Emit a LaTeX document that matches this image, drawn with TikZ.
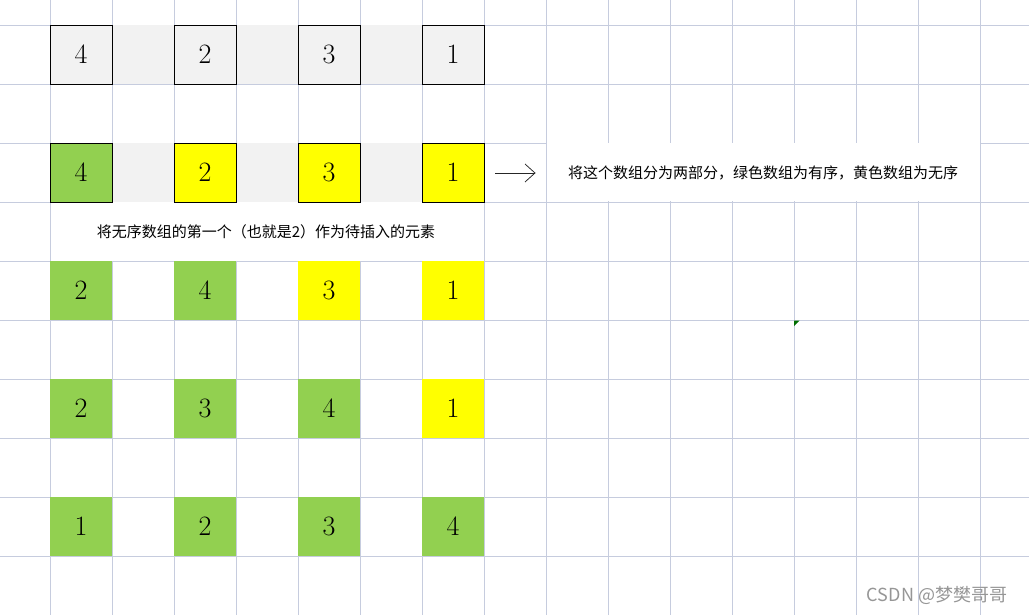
\documentclass[tikz,border=0pt]{standalone}
\usepackage{fontspec}
\newfontfamily\cjk{Noto Sans CJK SC}
\definecolor{gridc}{RGB}{198,204,222}
\definecolor{grn}{RGB}{146,208,80}
\definecolor{ylw}{RGB}{255,255,0}
\definecolor{gryband}{RGB}{242,242,242}
\definecolor{wmc}{RGB}{150,150,150}
\definecolor{markc}{RGB}{0,110,0}
\tikzset{
  numcell/.style={minimum width=62pt, minimum height=59pt, inner sep=0pt, font=\fontsize{28}{28}\selectfont},
  boxed/.style={numcell, draw=black, line width=0.9pt},
  gcell/.style={fill=grn},
  ycell/.style={fill=ylw},
  bcell/.style={fill=gryband},
  gridline/.style={draw=gridc, line width=0.9pt},
  note/.style={font=\cjk\fontsize{15}{15}\selectfont, inner sep=0pt},
  arrowline/.style={line width=0.75pt, draw=black!85},
}
\begin{document}
\begin{tikzpicture}[x=1pt,y=-1pt]
\useasboundingbox[fill=white] (0,0) rectangle (1029,615);
% grid
\foreach \i in {0,...,15} \draw[gridline] ({50+62*\i},0) -- ({50+62*\i},615);
\foreach \j in {0,...,9} \draw[gridline] (0,{25+59*\j}) -- (1029,{25+59*\j});
% bands and merged cells
\fill[gryband] (50,25) rectangle (484,84);
\fill[gryband] (50,143) rectangle (484,202);
\fill[white] (50.5,202.5) rectangle (483.5,260.5);
\fill[white] (546.5,143.5) rectangle (979.5,201.5);
% row 1
\node[boxed,bcell] (r1c1) at (81,54.5) {4};
\node[boxed,bcell] (r1c2) at (205,54.5) {2};
\node[boxed,bcell] (r1c3) at (329,54.5) {3};
\node[boxed,bcell] (r1c4) at (453,54.5) {1};
% row 2
\node[boxed,gcell] (r2c1) at (81,172.5) {4};
\node[boxed,ycell] (r2c2) at (205,172.5) {2};
\node[boxed,ycell] (r2c3) at (329,172.5) {3};
\node[boxed,ycell] (r2c4) at (453,172.5) {1};
% row 3
\node[numcell,gcell] (r3c1) at (81,290.5) {2};
\node[numcell,gcell] (r3c2) at (205,290.5) {4};
\node[numcell,ycell] (r3c3) at (329,290.5) {3};
\node[numcell,ycell] (r3c4) at (453,290.5) {1};
% row 4
\node[numcell,gcell] (r4c1) at (81,408.5) {2};
\node[numcell,gcell] (r4c2) at (205,408.5) {3};
\node[numcell,gcell] (r4c3) at (329,408.5) {4};
\node[numcell,ycell] (r4c4) at (453,408.5) {1};
% row 5
\node[numcell,gcell] (r5c1) at (81,526.5) {1};
\node[numcell,gcell] (r5c2) at (205,526.5) {2};
\node[numcell,gcell] (r5c3) at (329,526.5) {3};
\node[numcell,gcell] (r5c4) at (453,526.5) {4};
% notes
\node[note] (n1) at (763,173) {将这个数组分为两部分，绿色数组为有序，黄色数组为无序};
\node[note] (n2) at (266,232) {将无序数组的第一个（也就是2）作为待插入的元素};
% arrow
\coordinate (a1) at (495,173);
\coordinate (a2) at (535,173);
\draw[arrowline] (a1) -- (a2);
\draw[arrowline] ([shift={(-10,-9)}]a2) -- (a2) -- ([shift={(-10,9)}]a2);
% small mark
\fill[markc] (794,320.5) -- (799.5,320.5) -- (794,326) -- cycle;
% watermark
\node[font=\cjk\fontsize{18}{18}\selectfont, text=wmc, inner sep=0pt] (wm) at (937,595) {CSDN @梦樊哥哥};
\end{tikzpicture}
\end{document}
